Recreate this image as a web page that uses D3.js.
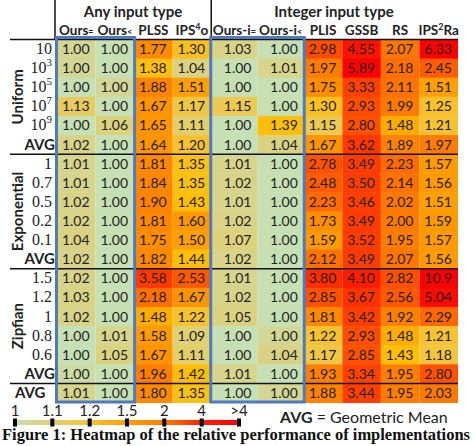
<!DOCTYPE html>
<html>
<head>
<meta charset="utf-8">
<script src="https://cdnjs.cloudflare.com/ajax/libs/d3/7.8.5/d3.min.js"></script>
<style>
body { margin: 0; background: #fff; }
svg { display: block; }
</style>
</head>
<body>
<div id="chart"></div>
<script>
// data (1.004 = shown as 1.00 but tinted slightly)
var columns = ["Ours=", "Ours<", "PLSS", "IPS4o", "Ours-i=", "Ours-i<", "PLIS", "GSSB", "RS", "IPS2Ra"];
var groupNames = ["Uniform", "Exponential", "Zipfian"];
var rowLabels = ["10", "10^3", "10^5", "10^7", "10^9", "AVG",
                 "1", "0.7", "0.5", "0.2", "0.1", "AVG",
                 "1.5", "1.2", "1", "0.8", "0.6", "AVG",
                 "AVG"];

var oursEq  = [1.004, 1.004, 1.00, 1.13, 1.00, 1.02, 1.01, 1.01, 1.02, 1.02, 1.04, 1.02, 1.02, 1.03, 1.02, 1.00, 1.00, 1.002, 1.01];
var oursLt  = [1.00, 1.00, 1.004, 1.00, 1.06, 1.00, 1.00, 1.00, 1.00, 1.00, 1.00, 1.00, 1.00, 1.00, 1.00, 1.01, 1.05, 1.00, 1.00];
var plss    = [1.77, 1.38, 1.88, 1.67, 1.65, 1.64, 1.81, 1.84, 1.90, 1.81, 1.75, 1.82, 3.58, 2.18, 1.48, 1.58, 1.67, 1.96, 1.80];
var ips4o   = [1.30, 1.04, 1.51, 1.17, 1.11, 1.20, 1.35, 1.35, 1.43, 1.60, 1.50, 1.44, 2.53, 1.67, 1.22, 1.09, 1.11, 1.42, 1.35];
var oursIEq = [1.03, 1.00, 1.00, 1.15, 1.00, 1.00, 1.01, 1.02, 1.01, 1.02, 1.07, 1.02, 1.01, 1.02, 1.05, 1.00, 1.00, 1.01, 1.00];
var oursILt = [1.00, 1.01, 1.00, 1.00, 1.39, 1.04, 1.00, 1.00, 1.00, 1.00, 1.00, 1.00, 1.00, 1.00, 1.00, 1.004, 1.04, 1.00, 1.004];
var plis    = [2.98, 1.97, 1.75, 1.30, 1.15, 1.67, 2.78, 2.48, 2.23, 1.73, 1.59, 2.12, 3.80, 2.85, 1.81, 1.22, 1.17, 1.93, 1.88];
var gssb    = [4.55, 5.89, 3.33, 2.93, 2.80, 3.62, 3.49, 3.50, 3.46, 3.49, 3.52, 3.49, 4.10, 3.67, 3.42, 2.93, 2.85, 3.34, 3.44];
var rs      = [2.07, 2.18, 2.11, 1.99, 1.48, 1.89, 2.23, 2.14, 2.02, 2.00, 1.95, 2.07, 2.82, 2.56, 1.92, 1.48, 1.43, 1.95, 1.95];
var ips2ra  = [6.33, 2.45, 1.51, 1.25, 1.21, 1.97, 1.57, 1.56, 1.51, 1.59, 1.57, 1.56, 10.9, 5.04, 2.29, 1.21, 1.18, 2.80, 2.03];

var legendTicks = ["1", "1.1", "1.2", "1.5", "2", "4", ">4"];
var legendValues = [1, 1.1, 1.2, 1.5, 2, 4, 6];

var table = [oursEq, oursLt, plss, ips4o, oursIEq, oursILt, plis, gssb, rs, ips2ra];

var W = 474, H = 446;
var svg = d3.select("#chart").append("svg").attr("width", W).attr("height", H);

var sans = "Lato, 'Open Sans', sans-serif";
var serif = "'Liberation Serif', 'DejaVu Serif', serif";

// the two "Ours-i" columns are a bit wider
var units = columns.map(function (c) { return c.indexOf("-i") > 0 ? 1.2 : 1; });
var cum = [0];
units.forEach(function (u, i) { cum.push(cum[i] + u); });
var x = d3.scaleLinear().domain([0, cum[cum.length - 1]]).range([57, 458]);
var y = d3.scaleBand().domain(d3.range(rowLabels.length)).range([39.5, 402.5]);

var color = d3.scaleLinear()
    .domain([1, 1.005, 1.1, 1.2, 1.45, 1.5, 2, 2.5, 3.5, 4.1, 5.5])
    .range(["#c6e0b4", "#d6d48c", "#e0cf70", "#f6c233", "#ffbe00", "#ffa000",
            "#ff7a00", "#ff5a00", "#ff3c00", "#ff1c00", "#ff0000"])
    .clamp(true);

var cells = [];
table.forEach(function (col, ci) {
	col.forEach(function (v, ri) { cells.push({ c: ci, r: ri, v: v }); });
});

var g = svg.append("g");
g.selectAll("rect.cell")
	.data(cells)
	.enter()
	.append("rect")
	.attr("class", "cell")
	.attr("x", function (d) { return x(cum[d.c]); })
	.attr("y", function (d) { return y(d.r); })
	.attr("width", function (d) { return x(cum[d.c + 1]) - x(cum[d.c]); })
	.attr("height", y.bandwidth() + 0.5)
	.attr("fill", function (d) { return color(d.v); });

g.selectAll("text.val")
	.data(cells)
	.enter()
	.append("text")
	.attr("class", "val")
	.attr("x", function (d) { return x(cum[d.c + 1]) - 6; })
	.attr("y", function (d) { return y(d.r) + y.bandwidth() / 2 + 5; })
	.attr("text-anchor", "end")
	.attr("font-family", sans)
	.attr("font-size", 14)
	.attr("fill", "#222")
	.text(function (d) { return d.v >= 10 ? d.v.toFixed(1) : d.v.toFixed(2); });

// row labels
rowLabels.forEach(function (lab, i) {
	var ty = y(i) + y.bandwidth() / 2 + 5;
	if (lab === "AVG") {
		var last = i === rowLabels.length - 1;
		svg.append("text")
			.attr("x", last ? 15 : 55)
			.attr("y", ty)
			.attr("text-anchor", last ? "start" : "end")
			.attr("font-family", sans).attr("font-weight", "bold").attr("font-size", 15)
			.attr("fill", "#222")
			.text("AVG");
		return;
	}
	var t = svg.append("text")
		.attr("x", 52)
		.attr("y", ty)
		.attr("text-anchor", "end")
		.attr("font-family", serif).attr("font-size", 16)
		.attr("fill", "#222");
	var parts = lab.split("^");
	t.append("tspan").text(parts[0]);
	if (parts[1]) {
		t.append("tspan").attr("dy", -7).attr("font-size", 11).text(parts[1]);
	}
});

// group labels, rotated
groupNames.forEach(function (name, i) {
	var cy = y(i * 6) + 3 * y.bandwidth();
	svg.append("text")
		.attr("transform", "translate(23," + cy + ") rotate(-90)")
		.attr("text-anchor", "middle")
		.attr("font-family", sans).attr("font-weight", "bold").attr("font-size", 15)
		.attr("fill", "#222")
		.text(name);
});

// headers
var header = function (label, cx) {
	svg.append("text")
		.attr("x", cx).attr("y", 17)
		.attr("text-anchor", "middle")
		.attr("font-family", sans).attr("font-weight", "bold").attr("font-size", 15)
		.attr("fill", "#222")
		.text(label);
};
header("Any input type", 133);
header("Integer input type", 334);

columns.forEach(function (name, i) {
	var cx = (x(cum[i]) + x(cum[i + 1])) / 2;
	var t = svg.append("text")
		.attr("x", cx).attr("y", 35)
		.attr("text-anchor", "middle")
		.attr("font-family", sans).attr("font-weight", "bold").attr("font-size", 13.5)
		.attr("fill", "#222");
	var m = name.match(/^(\D+)(\d)(\D+)$/);
	var last = name.slice(-1);
	if (m) {
		t.append("tspan").text(m[1]);
		t.append("tspan").attr("dy", -5).attr("font-size", 9).text(m[2]);
		t.append("tspan").attr("dy", 5).text(m[3]);
	} else if (last === "=" || last === "<") {
		t.append("tspan").text(name.slice(0, -1));
		t.append("tspan").attr("font-size", 9).text(last);
	} else {
		t.text(name);
	}
});

// black rules
var rules = [0, 6, 12, 18].map(function (r) { return y(r); });
svg.selectAll("line.rule")
	.data(rules)
	.enter()
	.append("line")
	.attr("x1", 10).attr("x2", 458)
	.attr("y1", function (d) { return d; }).attr("y2", function (d) { return d; })
	.attr("stroke", "#111").attr("stroke-width", 1.5);

[55, x(cum[4])].forEach(function (vx) {
	svg.append("line")
		.attr("x1", vx).attr("x2", vx).attr("y1", 0).attr("y2", y(0))
		.attr("stroke", "#111").attr("stroke-width", 1.5);
});

// blue frames around our algorithms
[0, 4].forEach(function (c) {
	svg.append("rect")
		.attr("x", x(cum[c]) - 0.5)
		.attr("y", y(0) - 2)
		.attr("width", x(cum[c + 2]) - x(cum[c]) + 1)
		.attr("height", y.range()[1] - y(0) + 1.5)
		.attr("fill", "none")
		.attr("stroke", "#4f7ac0")
		.attr("stroke-width", 3);
});

// colour legend
var lx = d3.scalePoint().domain(legendTicks).range([15, 239]);
var grad = svg.append("defs").append("linearGradient")
	.attr("id", "lg").attr("x1", "0%").attr("x2", "100%");
legendTicks.forEach(function (t, i) {
	grad.append("stop")
		.attr("offset", (lx(t) - 13) / (241 - 13))
		.attr("stop-color", color(legendValues[i]));
});
svg.append("rect")
	.attr("x", 13).attr("y", 420).attr("width", 228).attr("height", 5)
	.attr("fill", "url(#lg)");
svg.selectAll("rect.mark")
	.data(legendTicks)
	.enter()
	.append("rect")
	.attr("class", "mark")
	.attr("x", function (d) { return lx(d) - 2; })
	.attr("y", 418.5).attr("width", 4).attr("height", 8)
	.attr("fill", "#000");
svg.selectAll("text.tick")
	.data(legendTicks)
	.enter()
	.append("text")
	.attr("class", "tick")
	.attr("x", function (d) { return lx(d); })
	.attr("y", 416)
	.attr("text-anchor", "middle")
	.attr("font-family", sans).attr("font-size", 15)
	.attr("fill", "#222")
	.text(function (d) { return d; });

var note = svg.append("text")
	.attr("x", 280).attr("y", 423)
	.attr("font-family", sans).attr("font-size", 16)
	.attr("fill", "#222");
note.append("tspan").attr("font-weight", "bold").text("AVG");
note.append("tspan").text(" = Geometric Mean");

svg.append("text")
	.attr("x", 2).attr("y", 440)
	.attr("font-family", serif).attr("font-weight", "bold").attr("font-size", 16)
	.attr("textLength", 468).attr("lengthAdjust", "spacingAndGlyphs")
	.attr("fill", "#111")
	.text("Figure 1: Heatmap of the relative performance of implementations");
</script>
</body>
</html>
